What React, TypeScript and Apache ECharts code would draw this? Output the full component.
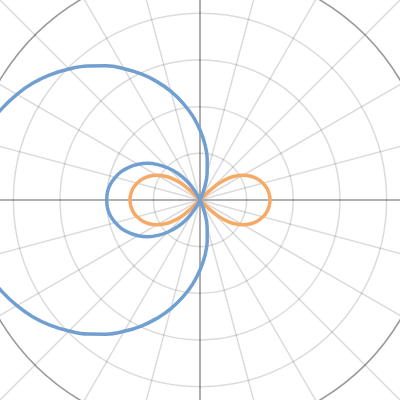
import React, { useEffect, useRef } from "react";
import * as echarts from "echarts";

// angles in degrees, 0 = right, counter-clockwise
const BLUE_THETA = [
    0, 5, 10, 15, 20, 25, 30, 35, 40, 45, 50, 55, 60, 65, 70, 75, 80, 85, 90,
    95, 100, 105, 110, 115, 120, 125, 130, 135, 140, 145, 150, 155, 160, 165, 170, 175, 180,
    185, 190, 195, 200, 205, 210, 215, 220, 225, 230, 235, 240, 245, 250, 255, 260, 265, 270,
    275, 280, 285, 290, 295, 300, 305, 310, 315, 320, 325, 330, 335, 340, 345, 350, 355, 360,
];
// signed radius (negative = drawn on the opposite side)
const BLUE_R = [
    -2.0, -1.99, -1.95, -1.88, -1.79, -1.67, -1.53, -1.37, -1.18, -0.97, -0.75, -0.51, -0.25, 0.02, 0.3, 0.59, 0.89, 1.2, 1.5,
    1.81, 2.11, 2.41, 2.7, 2.98, 3.25, 3.51, 3.75, 3.97, 4.18, 4.37, 4.53, 4.67, 4.79, 4.88, 4.95, 4.99, 5.0,
    4.99, 4.95, 4.88, 4.79, 4.67, 4.53, 4.37, 4.18, 3.97, 3.75, 3.51, 3.25, 2.98, 2.7, 2.41, 2.11, 1.81, 1.5,
    1.2, 0.89, 0.59, 0.3, 0.02, -0.25, -0.51, -0.75, -0.97, -1.18, -1.37, -1.53, -1.67, -1.79, -1.88, -1.95, -1.99, -2.0,
];

const ORANGE_THETA = [
    315, 316, 318, 320, 322, 325, 330, 335, 340, 345, 350, 355, 0, 5, 10, 15, 20, 25, 30, 35, 38, 40, 42, 44, 45,
    224, 222, 220, 218, 215, 210, 205, 200, 195, 190, 185, 180, 175, 170, 165, 160, 155, 150, 145, 142, 140, 138, 136, 135,
];
const ORANGE_R = [
    0, 0.28, 0.485, 0.625, 0.738, 0.877, 1.061, 1.203, 1.313, 1.396, 1.454, 1.489, 1.5, 1.489, 1.454, 1.396, 1.313, 1.203, 1.061, 0.877, 0.738, 0.625, 0.485, 0.28, 0,
    0.28, 0.485, 0.625, 0.738, 0.877, 1.061, 1.203, 1.313, 1.396, 1.454, 1.489, 1.5, 1.489, 1.454, 1.396, 1.313, 1.203, 1.061, 0.877, 0.738, 0.625, 0.485, 0.28, 0,
];

const RADIUS_MAX = 5;
const RADIUS_STEP = 1;
const SPOKE_STEP = 15;

const LIGHT = "rgba(0,0,0,0.14)";
const DARK = "rgba(0,0,0,0.3)";
const BLUE = "#729fd2";
const ORANGE = "#f7aa66";

function toPoints(rs: number[], thetas: number[]) {
    return rs.map((r, i) => {
        const t = thetas[i];
        return r < 0 ? [-r, (t + 180) % 360] : [r, t];
    });
}

const App: React.FC = () => {
    const ref = useRef<HTMLDivElement | null>(null);

    useEffect(() => {
        if (!ref.current) return;
        const chart = echarts.init(ref.current, undefined, { renderer: "svg" });
        const hidden = { show: false };

        chart.setOption({
            animation: false,
            backgroundColor: "#fff",
            polar: [
                { center: ["50%", "50%"], radius: 300 },
                { center: ["50%", "50%"], radius: 233.3 },
            ],
            angleAxis: [
                {
                    polarIndex: 0,
                    type: "value",
                    min: 0,
                    max: 360,
                    interval: SPOKE_STEP,
                    startAngle: 0,
                    clockwise: false,
                    axisLine: hidden,
                    axisTick: hidden,
                    axisLabel: hidden,
                    splitLine: { show: true, lineStyle: { color: LIGHT, width: 1.5 } },
                },
                {
                    polarIndex: 1,
                    type: "value",
                    min: 0,
                    max: 360,
                    interval: 90,
                    startAngle: 0,
                    clockwise: false,
                    axisLine: { show: true, lineStyle: { color: DARK, width: 1.6 } },
                    axisTick: hidden,
                    axisLabel: hidden,
                    splitLine: { show: true, lineStyle: { color: DARK, width: 1.6 } },
                },
            ],
            radiusAxis: [
                {
                    polarIndex: 0,
                    type: "value",
                    min: 0,
                    max: 1,
                    axisLine: hidden,
                    axisTick: hidden,
                    axisLabel: hidden,
                    splitLine: hidden,
                },
                {
                    polarIndex: 1,
                    type: "value",
                    min: 0,
                    max: RADIUS_MAX,
                    interval: RADIUS_STEP,
                    axisLine: hidden,
                    axisTick: hidden,
                    axisLabel: hidden,
                    splitLine: { show: true, lineStyle: { color: LIGHT, width: 1.5 } },
                },
            ],
            series: [
                {
                    type: "line",
                    coordinateSystem: "polar",
                    polarIndex: 1,
                    data: toPoints(ORANGE_R, ORANGE_THETA),
                    showSymbol: false,
                    smooth: 0.4,
                    clip: false,
                    lineStyle: { color: ORANGE, width: 3.5 },
                },
                {
                    type: "line",
                    coordinateSystem: "polar",
                    polarIndex: 1,
                    data: toPoints(BLUE_R, BLUE_THETA),
                    showSymbol: false,
                    smooth: 0.4,
                    clip: false,
                    lineStyle: { color: BLUE, width: 3.5 },
                },
            ],
        });

        return () => chart.dispose();
    }, []);

    return (
        <div
            ref={ref}
            style={{ position: "fixed", left: 0, top: 0, width: 400, height: 400 }}
        />
    );
};

export default App;
